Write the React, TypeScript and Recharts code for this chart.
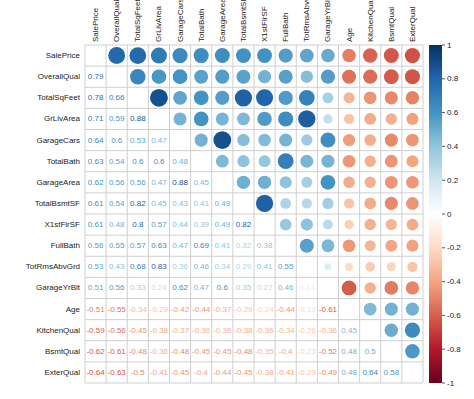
import React from 'react';
import { ScatterChart, Scatter, XAxis, YAxis, CartesianGrid } from 'recharts';

const variables = [
  'SalePrice', 'OverallQual', 'TotalSqFeet', 'GrLivArea', 'GarageCars', 'TotalBath',
  'GarageArea', 'TotalBsmtSF', 'X1stFlrSF', 'FullBath', 'TotRmsAbvGrd', 'GarageYrBlt',
  'Age', 'KitchenQual', 'BsmtQual', 'ExterQual',
];

// lower triangle of the correlation matrix, row i holds columns 0..i-1
const lower: number[][] = [
  [],
  [0.79],
  [0.78, 0.66],
  [0.71, 0.59, 0.88],
  [0.64, 0.6, 0.53, 0.47],
  [0.63, 0.54, 0.6, 0.6, 0.48],
  [0.62, 0.56, 0.56, 0.47, 0.88, 0.45],
  [0.61, 0.54, 0.82, 0.45, 0.43, 0.41, 0.49],
  [0.61, 0.48, 0.8, 0.57, 0.44, 0.39, 0.49, 0.82],
  [0.56, 0.55, 0.57, 0.63, 0.47, 0.69, 0.41, 0.32, 0.38],
  [0.53, 0.43, 0.68, 0.83, 0.36, 0.46, 0.34, 0.29, 0.41, 0.55],
  [0.51, 0.56, 0.33, 0.24, 0.62, 0.47, 0.6, 0.35, 0.27, 0.46, 0.14],
  [-0.51, -0.55, -0.34, -0.29, -0.42, -0.44, -0.37, -0.29, -0.24, -0.44, -0.19, -0.61],
  [-0.59, -0.56, -0.45, -0.38, -0.37, -0.36, -0.36, -0.38, -0.36, -0.34, -0.26, -0.36, 0.45],
  [-0.62, -0.61, -0.48, -0.36, -0.48, -0.45, -0.45, -0.48, -0.35, -0.4, -0.23, -0.52, 0.48, 0.5],
  [-0.64, -0.63, -0.5, -0.41, -0.45, -0.4, -0.44, -0.45, -0.38, -0.41, -0.29, -0.49, 0.48, 0.64, 0.58],
];

const legendTicks = [1, 0.8, 0.6, 0.4, 0.2, 0, -0.2, -0.4, -0.6, -0.8, -1];

// RdBu palette used by corrplot, from -1 to 1
const palette = [
  '#67001F', '#B2182B', '#D6604D', '#F4A582', '#FDDBC7', '#FFFFFF',
  '#D1E5F0', '#92C5DE', '#4393C3', '#2166AC', '#053061',
];

const W = 474;
const H = 399;
const LEFT = 85;
const TOP = 45;
const SIZE = 338;
const CELL = SIZE / variables.length;
const FONT = '"Liberation Sans", Arial, sans-serif';

function hex(c: string) {
  return [1, 3, 5].map((k) => parseInt(c.slice(k, k + 2), 16));
}

function colorOf(v: number) {
  const t = ((v + 1) / 2) * (palette.length - 1);
  const k = Math.min(Math.floor(t), palette.length - 2);
  const f = t - k;
  const a = hex(palette[k]);
  const b = hex(palette[k + 1]);
  const m = a.map((x, n) => Math.round(x + (b[n] - x) * f));
  return `rgb(${m[0]},${m[1]},${m[2]})`;
}

function corr(i: number, j: number) {
  return i > j ? lower[i][j] : lower[j][i];
}

const points: { x: number; y: number; r: number; upper: boolean }[] = [];
variables.forEach((_, i) => {
  variables.forEach((__, j) => {
    if (i !== j) points.push({ x: j + 0.5, y: i + 0.5, r: corr(i, j), upper: j > i });
  });
});

const halfTicks = variables.map((_, i) => i + 0.5);
const gridLines = [...variables.map((_, i) => i), variables.length];

function Cell(props: any) {
  const { cx, cy, payload } = props;
  const col = colorOf(payload.r);
  if (payload.upper) {
    return <circle cx={cx} cy={cy} r={0.45 * Math.sqrt(Math.abs(payload.r)) * CELL} fill={col} />;
  }
  return (
    <text x={cx} y={cy} textAnchor="middle" dominantBaseline="central" fontSize={8} fontFamily={FONT} fill={col}>
      {String(Number(payload.r.toFixed(2)))}
    </text>
  );
}

function TopTick(props: any) {
  const { x, payload } = props;
  const y = TOP - 3;
  return (
    <text x={x} y={y} transform={`rotate(-90, ${x}, ${y})`} textAnchor="start" dominantBaseline="central" fontSize={8} fontFamily={FONT} fill="#222">
      {variables[Math.floor(payload.value)]}
    </text>
  );
}

function LeftTick(props: any) {
  const { y, payload } = props;
  return (
    <text x={LEFT - 5} y={y} textAnchor="end" dominantBaseline="central" fontSize={8} fontFamily={FONT} fill="#222">
      {variables[Math.floor(payload.value)]}
    </text>
  );
}

function ColorBar() {
  const x0 = 429;
  const bw = 13;
  const pos = (v: number) => TOP + ((1 - v) / 2) * SIZE;
  return (
    <svg width={W} height={H} style={{ position: 'absolute', left: 0, top: 0, pointerEvents: 'none' }}>
      <defs>
        <linearGradient id="rdbu" x1="0" y1="0" x2="0" y2="1">
          {palette.slice().reverse().map((c, k) => (
            <stop key={k} offset={k / (palette.length - 1)} stopColor={c} />
          ))}
        </linearGradient>
      </defs>
      <rect x={x0} y={TOP} width={bw} height={SIZE} fill="url(#rdbu)" />
      {legendTicks.map((v) => (
        <g key={v}>
          <line x1={x0 + bw} x2={x0 + bw + 3} y1={pos(v)} y2={pos(v)} stroke="#555" strokeWidth={1} />
          <text x={x0 + bw + 5} y={pos(v)} dominantBaseline="central" fontSize={8} fontFamily={FONT} fill="#222">
            {String(v)}
          </text>
        </g>
      ))}
    </svg>
  );
}

export default function App() {
  return (
    <div style={{ position: 'absolute', left: 0, top: 0, width: W, height: H, background: '#fff' }}>
      <ScatterChart width={W} height={H} margin={{ top: 0, left: 0, right: W - LEFT - SIZE, bottom: H - TOP - SIZE }}>
        <CartesianGrid
          stroke="#cfcfcf"
          verticalPoints={gridLines.map((k) => LEFT + k * CELL)}
          horizontalPoints={gridLines.map((k) => TOP + k * CELL)}
        />
        <XAxis
          type="number"
          dataKey="x"
          orientation="top"
          domain={[0, variables.length]}
          ticks={halfTicks}
          interval={0}
          height={TOP}
          axisLine={false}
          tickLine={false}
          tick={<TopTick />}
        />
        <YAxis
          type="number"
          dataKey="y"
          reversed
          domain={[0, variables.length]}
          ticks={halfTicks}
          interval={0}
          width={LEFT}
          axisLine={false}
          tickLine={false}
          tick={<LeftTick />}
        />
        <Scatter data={points} isAnimationActive={false} shape={<Cell />} />
      </ScatterChart>
      <ColorBar />
    </div>
  );
}
